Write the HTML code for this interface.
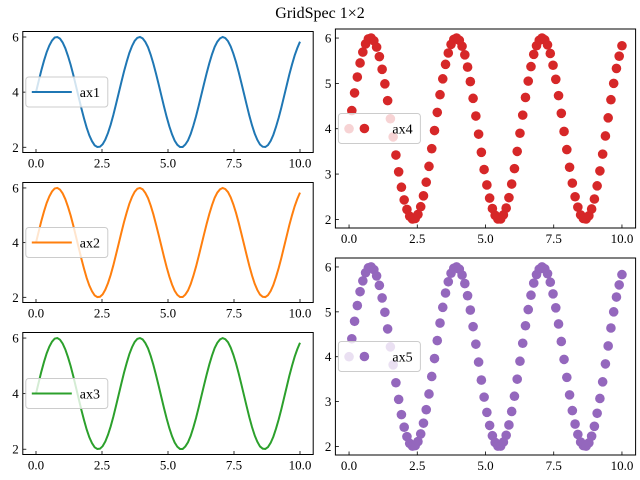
<!DOCTYPE html>
<html><head><meta charset="utf-8"><style>
html,body{margin:0;padding:0;background:#fff;}
svg{display:block;font-family:"Liberation Serif",serif;}
</style></head><body>
<svg id="fig" width="640" height="480" viewBox="0 0 640 480">
<rect width="640" height="480" fill="#fff"/>
<text x="320" y="18" text-anchor="middle" font-size="16">GridSpec 1×2</text>
</svg>
<script>
const yValues = [4.00,4.40,4.79,5.14,5.45,5.69,5.87,5.98,6.00,5.94,5.80,5.59,5.31,4.99,4.62,4.22,3.82,3.42,3.05,2.71,2.43,2.22,2.07,2.01,2.02,2.11,2.28,2.52,2.82,3.17,3.56,3.96,4.36,4.75,5.10,5.42,5.67,5.86,5.97,6.00,5.95,5.82,5.63,5.36,5.04,4.67,4.28,3.88,3.48,3.10,2.76,2.47,2.24,2.09,2.01,2.01,2.10,2.25,2.48,2.78,3.12,3.50,3.90,4.30,4.69,5.05,5.37,5.64,5.83,5.95,6.00,5.96,5.85,5.66,5.40,5.09,4.73,4.34,3.94,3.54,3.15,2.80,2.50,2.27,2.10,2.02,2.01,2.08,2.23,2.45,2.74,3.07,3.44,3.84,4.24,4.64,5.00,5.33,5.60,5.83];
const xStart = 0, xEnd = 10;
const xTicks = [0, 2.5, 5, 7.5, 10];
const xTickLabels = ["0.0","2.5","5.0","7.5","10.0"];
const yTicksLine = [2, 4, 6];
const yTicksScatter = [2, 3, 4, 5, 6];
const axesNames = ["ax1","ax2","ax3","ax4","ax5"];

const NS = "http://www.w3.org/2000/svg";
const svg = document.getElementById('fig');
function mk(tag, attrs, parent){const e=document.createElementNS(NS,tag);for(const k in attrs)e.setAttribute(k,attrs[k]);(parent||svg).appendChild(e);return e;}

const panels = [
 {name:"ax1",l:22.8,r:313.2,t:31.5,b:152.5,color:"#1f77b4",type:"line",yt:yTicksLine},
 {name:"ax2",l:22.8,r:313.2,t:182.5,b:302.5,color:"#ff7f0e",type:"line",yt:yTicksLine},
 {name:"ax3",l:22.8,r:313.2,t:332.5,b:454.5,color:"#2ca02c",type:"line",yt:yTicksLine},
 {name:"ax4",l:335.4,r:635.6,t:29,b:228,color:"#d62728",type:"scatter",yt:yTicksScatter},
 {name:"ax5",l:335.4,r:635.6,t:258,b:455,color:"#9467bd",type:"scatter",yt:yTicksScatter}
];
const n = yValues.length;
const xs = yValues.map((_,i)=>xStart+(xEnd-xStart)*i/(n-1));

panels.forEach(p=>{
  const g = mk('g',{});
  
  
  const ymin=Math.min(...yValues), ymax=Math.max(...yValues);
  const dx=(xEnd-xStart)*0.05, dy=(ymax-ymin)*0.05;
  const X=v=>p.l+(v-(xStart-dx))/((xEnd+dx)-(xStart-dx))*(p.r-p.l);
  const Y=v=>p.b-(v-(ymin-dy))/((ymax+dy)-(ymin-dy))*(p.b-p.t);
  // data
  if(p.type==="line"){
    const d=xs.map((x,i)=>(i?'L':'M')+X(x).toFixed(2)+','+Y(yValues[i]).toFixed(2)).join('');
    const path=mk('path',{d:d,fill:'none',stroke:p.color,'stroke-width':2},g);
    
    
  } else {
    xs.forEach((x,i)=>{
      const c=mk('circle',{cx:X(x),cy:Y(yValues[i]),r:4.8,fill:p.color},g);
      
      
    });
  }
  // frame
  const fr=mk('rect',{x:p.l,y:p.t,width:p.r-p.l,height:p.b-p.t,fill:'none',stroke:'#000','stroke-width':1},g);
  
  
  // x ticks
  xTicks.forEach((t,i)=>{
    const x=X(t);
    mk('line',{x1:x,x2:x,y1:p.b,y2:p.b-3.5,stroke:'#000','stroke-width':0.8},g);
    const tx=mk('text',{x:x,y:p.b+15,'text-anchor':'middle','font-size':13},g);
    tx.textContent=xTickLabels[i];
    
    
  });
  p.yt.forEach(t=>{
    const y=Y(t);
    mk('line',{x1:p.l,x2:p.l+3.5,y1:y,y2:y,stroke:'#000','stroke-width':0.8},g);
    const ty=mk('text',{x:p.l-4,y:y+4.5,'text-anchor':'end','font-size':13},g);
    ty.textContent=String(t);
    
    
  });
  // legend
  const cy=(p.t+p.b)/2;
  const lg=mk('g',{},g);
  
  
  const lx=p.l+3;
  mk('rect',{x:lx,y:cy-15,width:82,height:30,rx:3,fill:'#fff','fill-opacity':0.8,stroke:'#ccc','stroke-width':1},lg);
  if(p.type==="line") mk('line',{x1:lx+6,x2:lx+46,y1:cy,y2:cy,stroke:p.color,'stroke-width':2},lg);
  else mk('circle',{cx:lx+26,cy:cy,r:4.8,fill:p.color},lg);
  const lt=mk('text',{x:lx+54,y:cy+5,'font-size':14},lg);
  lt.textContent=p.name;
});
</script>
</body></html>
